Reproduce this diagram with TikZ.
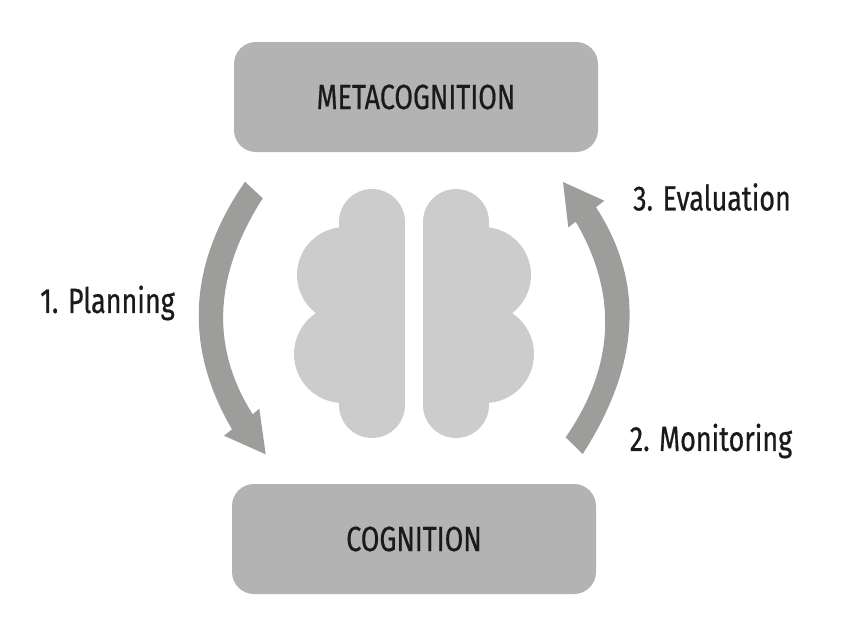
\documentclass[tikz,border=0pt]{standalone}
\usepackage{fontspec}
\setmainfont[FakeStretch=0.77,FakeBold=0.5]{Fira Sans}
\definecolor{boxgray}{HTML}{B3B3B3}
\definecolor{braingray}{HTML}{CCCCCC}
\definecolor{arrowgray}{HTML}{9D9D9C}
\definecolor{ink}{HTML}{1A1A1A}
\tikzset{
  boxnode/.style={fill=boxgray,rounded corners=22pt,minimum width=364pt,minimum height=110pt,inner sep=0pt,text=ink,font=\fontsize{35}{35}\selectfont},
  labelnode/.style={inner sep=0pt,text=ink,font=\fontsize{35}{35}\selectfont},
  brain/.style={fill=braingray},
  blockarrow/.style={fill=arrowgray}
}
\begin{document}
\begin{tikzpicture}[x=1pt,y=-1pt]
\useasboundingbox (0,0) rectangle (860,632);
\node[boxnode] (meta) at (416,97) {\raisebox{-1pt}{METACOGNITION}};
\node[boxnode] (cog) at (414,539) {\raisebox{-1pt}{COGNITION}};
% brain, left half
\fill[brain] (372,222) circle[radius=33];
\fill[brain] (372,405) circle[radius=33];
\fill[brain] (339,222) rectangle (405,405);
\fill[brain] (345,275) circle[radius=48];
\fill[brain] (343,354) circle[radius=49];
% brain, right half
\fill[brain] (456,222) circle[radius=33];
\fill[brain] (456,405) circle[radius=33];
\fill[brain] (423,222) rectangle (489,405);
\fill[brain] (483,275) circle[radius=48];
\fill[brain] (485,354) circle[radius=49];
% arrows
\fill[blockarrow] (245,181.7) .. controls (188,264.2) and (183.7,346.8) .. (232,429.3)
  -- (224,435.7) -- (265.7,454.3) -- (259.3,408.7) -- (252.7,414.3)
  .. controls (210.2,347.2) and (213.5,275.3) .. (262.7,198.3) -- cycle;
\fill[blockarrow] (582.7,454) .. controls (640.4,364.3) and (644.8,282) .. (596,207.3)
  -- (604.3,200.7) -- (563,182) -- (568.3,227.3) -- (575.7,221.7)
  .. controls (618.1,294.2) and (614.8,366.1) .. (565.7,437.3) -- cycle;
\node[labelnode] (plan) at (107.5,303) {1. Planning};
\node[labelnode] (eval) at (712,197) {3. Evaluation};
\node[labelnode] (mon) at (711,441) {2. Monitoring};
\end{tikzpicture}
\end{document}
